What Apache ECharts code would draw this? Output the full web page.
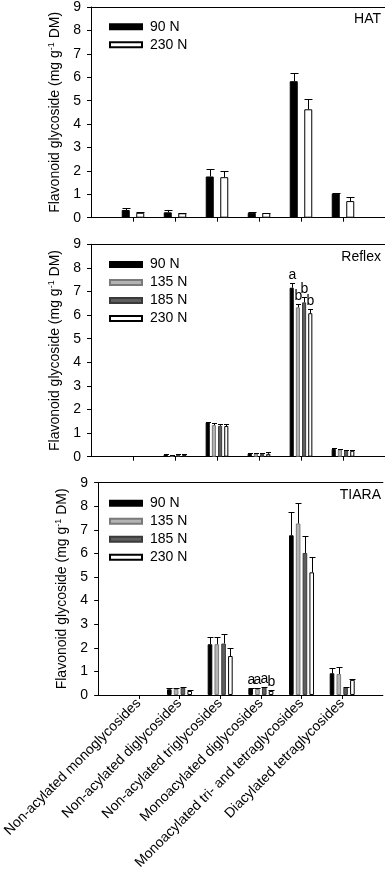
<!DOCTYPE html>
<html>
<head>
<meta charset="utf-8">
<script src="https://cdn.jsdelivr.net/npm/echarts@6/dist/echarts.min.js"></script>
<style>
html,body{margin:0;padding:0;background:#fff;}
#chart{width:385px;height:872px;}
</style>
</head>
<body>
<div id="chart"></div>
<script>
const categories = ['Non-acylated monoglycosides','Non-acylated diglycosides','Non-acylated triglycosides','Monoacylated diglycosides','Monoacylated tri- and tetraglycosides','Diacylated tetraglycosides'];
const yTicks = [0,1,2,3,4,5,6,7,8,9];
const panelNames = ['HAT','Reflex','TIARA'];
const levelNames = ['90 N','135 N','185 N','230 N'];

// HAT
const hat90 = [0.33,0.23,1.76,0.21,5.83,1.03];
const hat90Err = [0.07,0.10,0.33,0.03,0.35,0.04];
const hat230 = [0.21,0.19,1.73,0.20,4.63,0.71];
const hat230Err = [0.03,0.02,0.27,0.02,0.45,0.18];

// Reflex
const ref90 = [0,0.10,1.46,0.14,7.16,0.33];
const ref90Err = [0,0.02,0.02,0.02,0.19,0.03];
const ref135 = [0,0.07,1.34,0.14,6.33,0.31];
const ref135Err = [0,0.02,0.07,0.03,0.14,0.03];
const ref185 = [0,0.08,1.31,0.12,6.54,0.28];
const ref185Err = [0,0.02,0.08,0.02,0.23,0.02];
const ref230 = [0,0.08,1.30,0.12,6.08,0.25];
const ref230Err = [0,0.03,0.09,0.09,0.17,0.02];
const ref90Letters = ['','','','','a',''];
const ref135Letters = ['','','','','b',''];
const ref185Letters = ['','','','','b',''];
const ref230Letters = ['','','','','b',''];

// TIARA
const tia90 = [0,0.24,2.15,0.27,6.77,0.92];
const tia90Err = [0,0.04,0.29,0.03,1.00,0.21];
const tia135 = [0,0.25,2.15,0.25,7.27,0.89];
const tia135Err = [0,0.03,0.29,0.03,0.85,0.28];
const tia185 = [0,0.31,2.18,0.31,6.02,0.31];
const tia185Err = [0,0.04,0.39,0.03,0.70,0.02];
const tia230 = [0,0.17,1.65,0.17,5.20,0.64];
const tia230Err = [0,0.02,0.35,0.02,0.66,0.03];
const tia90Letters = ['','','','a','',''];
const tia135Letters = ['','','','a','',''];
const tia185Letters = ['','','','a','',''];
const tia230Letters = ['','','','b','',''];

const FONT = "'Liberation Sans', Arial, sans-serif";
const styles = {
  '90 N': {color:'#000000', borderColor:'#000000', borderWidth:1},
  '135 N': {color:'#b4b4b4', borderColor:'#7a7a7a', borderWidth:1},
  '185 N': {color:'#5e5e5e', borderColor:'#3a3a3a', borderWidth:1},
  '230 N': {color:'#ffffff', borderColor:'#000000', borderWidth:1}
};

const panels = [
  {top:5, height:212.7, barWidth:8, gapPx:6.5, capW:8,
   series:[['90 N',hat90,hat90Err,null],['230 N',hat230,hat230Err,null]]},
  {top:244.3, height:212.4, barWidth:4.1, gapPx:2.1, capW:5,
   series:[['90 N',ref90,ref90Err,ref90Letters],['135 N',ref135,ref135Err,ref135Letters],['185 N',ref185,ref185Err,ref185Letters],['230 N',ref230,ref230Err,ref230Letters]]},
  {top:482.7, height:212.3, barWidth:4.6, gapPx:2.2, capW:6,
   series:[['90 N',tia90,tia90Err,tia90Letters],['135 N',tia135,tia135Err,tia135Letters],['185 N',tia185,tia185Err,tia185Letters],['230 N',tia230,tia230Err,tia230Letters]]}
];

const grid = [], xAxis = [], yAxis = [], series = [], legend = [], graphic = [];
const xCats = [''].concat(categories).concat(['']);
const legendTops = [14.8, 252.5, 491.2];
const labelTops = [12, 250.5, 488];

panels.forEach((p, gi) => {
  grid.push({left:91, right:0, top:p.top, height:p.height});
  xAxis.push({
    type:'category', gridIndex:gi, data:xCats, boundaryGap:false,
    axisLine:{lineStyle:{color:'#000', width:1}},
    axisTick:{show:true, inside:false, length:4, lineStyle:{color:'#000'},
      interval:function(i){return i>=1 && i<=6;}},
    axisLabel:{show: gi===2, interval:0, rotate:45, fontSize:14, color:'#000', fontFamily:FONT, margin:6},
    splitLine:{show:false}
  });
  // top border
  xAxis.push({
    type:'value', gridIndex:gi, position:'top', min:0, max:1,
    axisLine:{show:true, lineStyle:{color:'#000', width:1}},
    axisTick:{show:false}, axisLabel:{show:false}, splitLine:{show:false}
  });
  yAxis.push({
    type:'value', gridIndex:gi, min:yTicks[0], max:yTicks[yTicks.length-1], interval:1,
    axisLine:{show:true, lineStyle:{color:'#000', width:1}},
    axisTick:{show:true, inside:false, length:4, lineStyle:{color:'#000'}},
    axisLabel:{fontSize:14, color:'#000', fontFamily:FONT, margin:10},
    splitLine:{show:false},
    name:'Flavonoid glycoside (mg g{sup|-1} DM)',
    nameLocation:'middle', nameRotate:90, nameGap:27,
    nameTextStyle:{fontSize:14, color:'#000', fontFamily:FONT,
      rich:{sup:{fontSize:9, color:'#000', fontFamily:FONT, padding:[0,0,8,0]}}}
  });
  const n = p.series.length;
  const pitch = p.barWidth + p.gapPx;
  const gapPct = (p.gapPx / p.barWidth * 100).toFixed(1) + '%';
  p.series.forEach((s, si) => {
    const [name, vals, errs, letters] = s;
    series.push({
      type:'bar', name:name, xAxisIndex:gi*2, yAxisIndex:gi,
      barWidth:p.barWidth, barGap:gapPct,
      itemStyle:styles[name],
      data: vals.map((v,i)=>[i+1, v > 0 ? v : null]),
      animation:false, silent:true
    });
  });
  p.series.forEach((s, si) => {
    const [name, vals, errs, letters] = s;
    const off = (si - (n-1)/2) * pitch;
    series.push({
      type:'custom', name:name+' error', xAxisIndex:gi*2, yAxisIndex:gi,
      data: vals.map((v,i)=>[i+1, v, errs[i]]),
      z:5, animation:false, silent:true,
      renderItem:function(params, api){
        const x = api.value(0), v = api.value(1), e = api.value(2);
        const letter = letters ? letters[params.dataIndex] : '';
        if (!(v > 0)) return null;
        const p0 = api.coord([x, v]);
        const p1 = api.coord([x, v + e]);
        const cx = Math.round(p0[0] + off) + 0.5;
        const yt = Math.round(p1[1]) + 0.5;
        const children = [];
        if (e > 0) {
          children.push({type:'line', shape:{x1:cx, y1:p0[1], x2:cx, y2:yt}, style:{stroke:'#000', lineWidth:1}});
          children.push({type:'line', shape:{x1:cx - p.capW/2, y1:yt, x2:cx + p.capW/2, y2:yt}, style:{stroke:'#000', lineWidth:1}});
        }
        if (letter) {
          children.push({type:'text', style:{text:letter, x:cx, y:yt - 1, textAlign:'center', textVerticalAlign:'bottom', font:'14px ' + FONT, fill:'#000'}});
        }
        return {type:'group', children:children};
      }
    });
  });
  legend.push({
    data: p.series.map(s=>s[0]), orient:'vertical', left:104, top:legendTops[gi],
    itemWidth:32, itemHeight:5, itemGap:4, icon:'rect',
    textStyle:{fontSize:14, color:'#000', fontFamily:FONT, padding:[0,0,0,3]},
    selectedMode:false
  });
  graphic.push({type:'text', right:4, top:labelTops[gi], style:{text:panelNames[gi], font:'14px ' + FONT, fill:'#000'}});
});

const chart = echarts.init(document.getElementById('chart'), null, {renderer:'canvas'});
chart.setOption({
  animation:false,
  backgroundColor:'#fff',
  textStyle:{fontFamily:FONT},
  grid:grid, xAxis:xAxis, yAxis:yAxis, series:series, legend:legend, graphic:graphic
});
</script>
</body>
</html>
